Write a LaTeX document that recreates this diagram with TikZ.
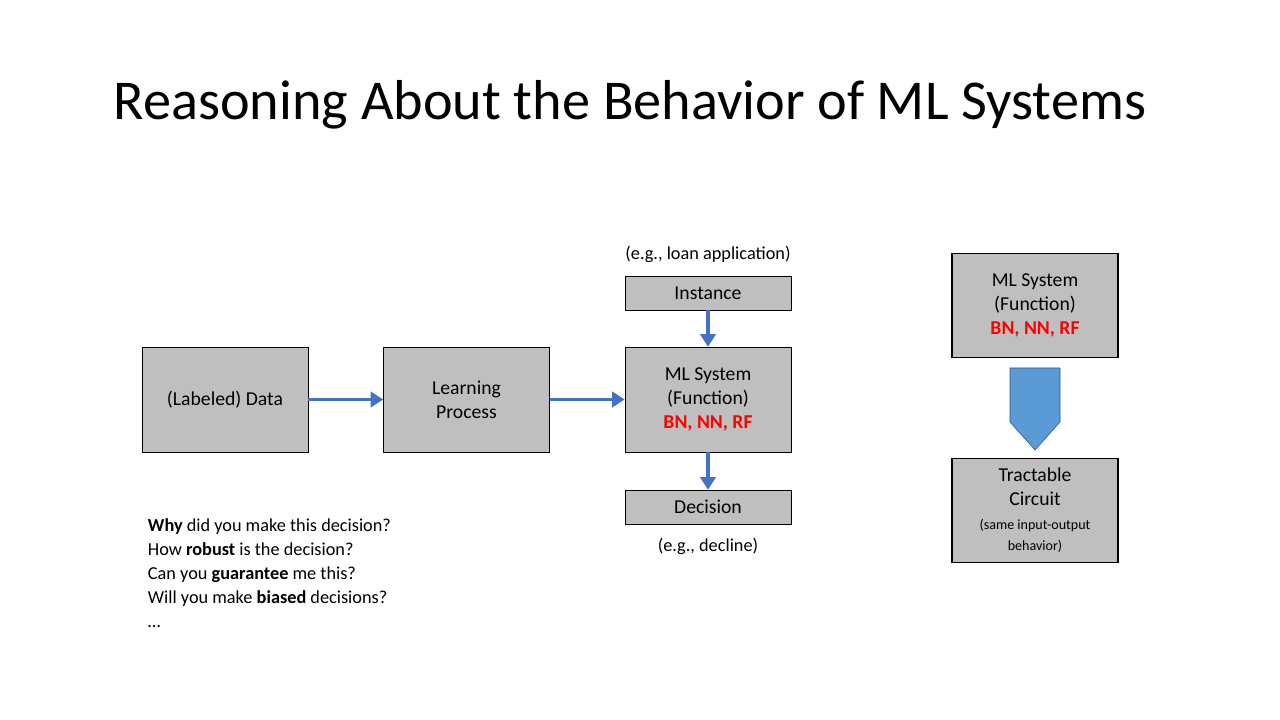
\documentclass[tikz,border=0pt]{standalone}
\usepackage{fontspec}
\setmainfont{Carlito}
\usetikzlibrary{positioning,arrows.meta}
\definecolor{boxgray}{RGB}{191,191,191}
\definecolor{flowblue}{RGB}{68,114,196}
\definecolor{arrowblue}{RGB}{91,155,213}
\tikzset{
    block/.style = {
        draw, fill=boxgray, minimum width=4.15cm, minimum height=2.62cm,
        align=center, font=\fontsize{14}{17}\selectfont, inner sep=2pt,
        },
    small block/.style = {
        block, minimum height=0.85cm,
        },
    flow/.style = {
        draw=flowblue, line width=2.2pt, -{Triangle[length=9pt,width=11pt]},
        },
    note/.style = {
        font=\fontsize{13}{16}\selectfont,
        },
}
\newcommand{\mlkinds}{\textcolor{red}{\textbf{BN, NN, RF}}}
\begin{document}
\begin{tikzpicture}[x=0.025cm,y=-0.025cm]
    \useasboundingbox (0,0) rectangle (1280,720);

    \node [font=\fontsize{40}{48}\selectfont] (title) at (630,105) {Reasoning About the Behavior of ML Systems};

    \node [block] (data) at (225,399.5) {(Labeled) Data};
    \node [block] (learn) at (466.5,399.5) {Learning\\Process};
    \node [block] (ml) at (708,399.5) {ML System\\(Function)\\\mlkinds};
    \node [small block] (inst) at (708,293) {Instance};
    \node [small block] (dec) at (708,507) {Decision};
    \node [note] (instlab) at (708,254) {(e.g., loan application)};
    \node [note] (declab) at (708,546) {(e.g., decline)};

    \draw [flow] (data) -- (learn);
    \draw [flow] (learn) -- (ml);
    \draw [flow] (inst) -- (ml);
    \draw [flow] (ml) -- (dec);

    \node [block, line width=0.8pt] (mlright) at (1035,305.5) {ML System\\(Function)\\\mlkinds};
    \node [block, line width=0.8pt] (circ) at (1035,510.5) {Tractable\\Circuit\\{\fontsize{10}{12}\selectfont (same input-output}\\[-2pt]{\fontsize{10}{12}\selectfont behavior)}};
    \draw [fill=arrowblue, draw=flowblue!70!black] (1010,368) -- (1060,368) -- (1060,422) -- (1035,450) -- (1010,422) -- cycle;

    \node [note, anchor=north west, align=left] (why) at (143,514) {%
        \textbf{Why} did you make this decision?\\[1pt]
        How \textbf{robust} is the decision?\\[1pt]
        Can you \textbf{guarantee} me this?\\[1pt]
        Will you make \textbf{biased} decisions?\\[1pt]
        \dots};
\end{tikzpicture}
\end{document}
